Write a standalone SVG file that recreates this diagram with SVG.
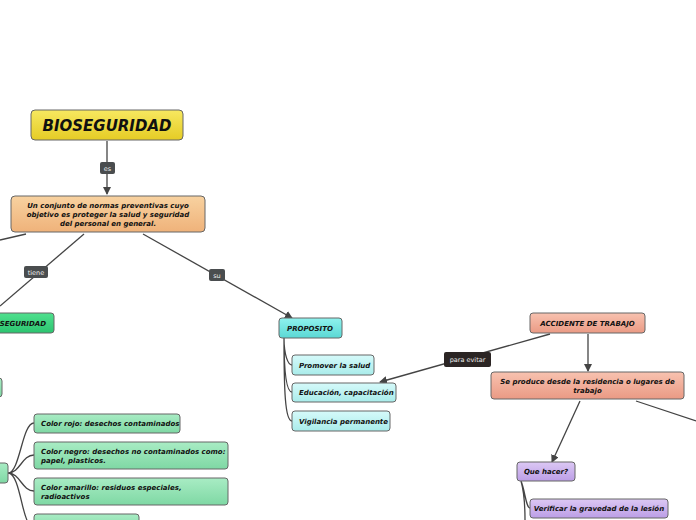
<svg xmlns="http://www.w3.org/2000/svg" width="696" height="520" viewBox="0 0 696 520">
<defs>
<linearGradient id="gy" x1="0" y1="0" x2="0" y2="1"><stop offset="0" stop-color="#f7e860"/><stop offset="1" stop-color="#e5cc25"/></linearGradient>
<linearGradient id="go" x1="0" y1="0" x2="0" y2="1"><stop offset="0" stop-color="#f8d2a0"/><stop offset="1" stop-color="#efb27a"/></linearGradient>
<linearGradient id="gg" x1="0" y1="0" x2="0" y2="1"><stop offset="0" stop-color="#a8ecc4"/><stop offset="1" stop-color="#7fd8a4"/></linearGradient>
<linearGradient id="gG" x1="0" y1="0" x2="0" y2="1"><stop offset="0" stop-color="#4fe08e"/><stop offset="1" stop-color="#2cc470"/></linearGradient>
<linearGradient id="gc" x1="0" y1="0" x2="0" y2="1"><stop offset="0" stop-color="#8ff2ee"/><stop offset="1" stop-color="#5ad8d4"/></linearGradient>
<linearGradient id="gl" x1="0" y1="0" x2="0" y2="1"><stop offset="0" stop-color="#d6fafa"/><stop offset="1" stop-color="#a9ecea"/></linearGradient>
<linearGradient id="gs" x1="0" y1="0" x2="0" y2="1"><stop offset="0" stop-color="#f8c2b0"/><stop offset="1" stop-color="#ea9a84"/></linearGradient>
<linearGradient id="gp" x1="0" y1="0" x2="0" y2="1"><stop offset="0" stop-color="#dcc8f4"/><stop offset="1" stop-color="#bc9ee6"/></linearGradient>
<marker id="ar" markerWidth="8" markerHeight="8" refX="7" refY="4" orient="auto" markerUnits="userSpaceOnUse"><path d="M0,0 L8,4 L0,8 z" fill="#444"/></marker>
</defs>
<style>
.n{stroke:#666;stroke-width:1}
.t{font-family:"DejaVu Sans",sans-serif;font-weight:bold;font-style:italic;font-size:7px;fill:#111}
.c{fill:none;stroke:#444;stroke-width:1.3}
.lb{fill:#4a4d4f}
.lt{font-family:"DejaVu Sans",sans-serif;font-size:6.5px;fill:#eee;text-anchor:middle}
</style>
<rect width="696" height="520" fill="#fff"/>
<g id="connectors">
<path class="c" d="M107,141 L107,194" marker-end="url(#ar)"/>
<path class="c" d="M26,234 L0,240"/>
<path class="c" d="M84,234 L0,306"/>
<path class="c" d="M143,234 L292,318" marker-end="url(#ar)"/>
<path class="c" d="M550,334 L380,382" marker-end="url(#ar)"/>
<path class="c" d="M588,334 L588,371" marker-end="url(#ar)"/>
<path class="c" d="M580,401 L552,462" marker-end="url(#ar)"/>
<path class="c" d="M636,401 L696,421"/>
<path class="c" d="M284,338 C284,355 288,365 292,365 M284,338 C284,370 286,392 292,392 M284,338 C284,390 285,421 292,421"/>
<path class="c" d="M8,473 C20,473 22,423 34,423 M8,473 C20,473 22,455 34,455 M8,473 C20,473 22,491 34,491 M8,473 C20,473 22,520 30,525"/>
<path class="c" d="M521,481 C525,490 526,508 530,508 M521,481 C525,495 525,510 525,520"/>
<rect class="lb" x="100" y="162" width="15" height="12" rx="2"/><text class="lt" x="107.5" y="170.5">es</text>
<rect class="lb" x="24" y="266" width="24" height="12" rx="2"/><text class="lt" x="36" y="274.5">tiene</text>
<rect class="lb" x="209" y="269" width="16" height="12" rx="2"/><text class="lt" x="217" y="277.5">su</text>
<rect x="444" y="352" width="47" height="15" rx="2" fill="#2b2524"/><text class="lt" x="467.5" y="362">para evitar</text>
</g>
<g id="bio"><rect class="n" x="31" y="110" width="152" height="30" rx="4" fill="url(#gy)"/><text class="t" x="107" y="131" text-anchor="middle" style="font-size:15px">BIOSEGURIDAD</text></g>
<g id="def"><rect class="n" x="11" y="196" width="194" height="36" rx="4" fill="url(#go)"/>
<text class="t" x="108" y="208" text-anchor="middle"><tspan x="108">Un conjunto de normas preventivas cuyo</tspan><tspan x="108" dy="9">objetivo es proteger la salud y seguridad</tspan><tspan x="108" dy="9">del personal en general.</tspan></text></g>
<g id="seg"><rect class="n" x="-60" y="313" width="114" height="20" rx="3" fill="url(#gG)"/><text class="t" x="46" y="326" text-anchor="end">SEGURIDAD</text></g>
<g id="g1"><rect class="n" x="-20" y="378" width="22" height="19" rx="3" fill="url(#gg)"/></g>
<g id="g2"><rect class="n" x="-20" y="463" width="28" height="20" rx="3" fill="url(#gg)"/></g>
<g id="rojo"><rect class="n" x="34" y="414" width="146" height="19" rx="3" fill="url(#gg)"/><text class="t" x="41" y="426">Color rojo: desechos contaminados</text></g>
<g id="negro"><rect class="n" x="34" y="442" width="194" height="27" rx="3" fill="url(#gg)"/><text class="t" x="41" y="454"><tspan x="41">Color negro: desechos no contaminados como:</tspan><tspan x="41" dy="8.5">papel, plasticos.</tspan></text></g>
<g id="amarillo"><rect class="n" x="34" y="478" width="194" height="27" rx="3" fill="url(#gg)"/><text class="t" x="41" y="490"><tspan x="41">Color amarillo: residuos especiales,</tspan><tspan x="41" dy="8.5">radioactivos</tspan></text></g>
<g id="g4"><rect class="n" x="34" y="514" width="105" height="20" rx="3" fill="url(#gg)"/></g>
<g id="prop"><rect class="n" x="279" y="318" width="63" height="20" rx="3" fill="url(#gc)"/><text class="t" x="287" y="331">PROPOSITO</text></g>
<g id="p1"><rect class="n" x="292" y="355" width="82" height="20" rx="3" fill="url(#gl)"/><text class="t" x="299" y="368">Promover la salud</text></g>
<g id="p2"><rect class="n" x="292" y="383" width="104" height="19" rx="3" fill="url(#gl)"/><text class="t" x="299" y="395">Educación, capacitación</text></g>
<g id="p3"><rect class="n" x="292" y="411" width="98" height="20" rx="3" fill="url(#gl)"/><text class="t" x="299" y="424">Vigilancia permanente</text></g>
<g id="acc"><rect class="n" x="530" y="313" width="115" height="20" rx="3" fill="url(#gs)"/><text class="t" x="587.5" y="326" text-anchor="middle">ACCIDENTE DE TRABAJO</text></g>
<g id="se"><rect class="n" x="491" y="372" width="193" height="27" rx="3" fill="url(#gs)"/><text class="t" x="587.5" y="384" text-anchor="middle"><tspan x="587.5">Se produce desde la residencia o lugares de</tspan><tspan x="587.5" dy="8.5">trabajo</tspan></text></g>
<g id="que"><rect class="n" x="517" y="462" width="58" height="19" rx="3" fill="url(#gp)"/><text class="t" x="546" y="474" text-anchor="middle">Que hacer?</text></g>
<g id="ver"><rect class="n" x="530" y="499" width="138" height="19" rx="3" fill="url(#gp)"/><text class="t" x="599" y="511" text-anchor="middle">Verificar la gravedad de la lesión</text></g>
</svg>
